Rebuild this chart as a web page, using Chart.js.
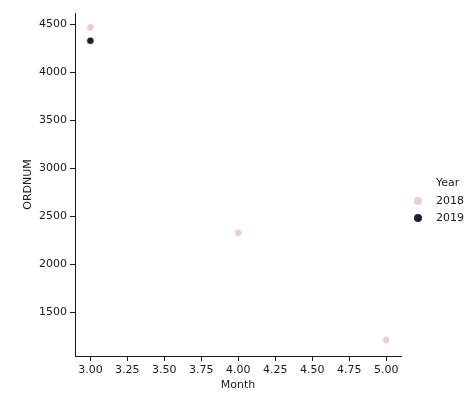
<!DOCTYPE html>
<html>
<head>
<meta charset="utf-8">
<script src="https://cdn.jsdelivr.net/npm/chart.js@4.4.1/dist/chart.umd.min.js"></script>
<style>
  html, body { margin: 0; padding: 0; background: #fff; }
  #wrap { position: relative; width: 474px; height: 403px; }
  #legend { position: absolute; left: 410px; top: 176px; font-family: "DejaVu Sans", sans-serif; font-size: 11px; color: #1a1a1a; }
  #legend .title { position: absolute; left: 26px; top: 0; white-space: nowrap; }
  #legend .item { position: absolute; left: 0; white-space: nowrap; height: 14px; line-height: 14px; }
  #legend .dot { position: absolute; left: 4px; top: 3px; width: 8px; height: 8px; border-radius: 50%; }
  #legend .lbl { position: absolute; left: 26px; top: 0; }
</style>
</head>
<body>
<div id="wrap">
  <canvas id="myChart" width="474" height="403"></canvas>
  <div id="legend"></div>
</div>
<script>
// data
var years = ['2018', '2019'];
var months2018 = [3, 4, 5];
var ordnum2018 = [4466, 2325, 1208];
var months2019 = [3];
var ordnum2019 = [4326];
var yearColors = ['#ebcec7', '#221a36'];

var xTicks = [3.0, 3.25, 3.5, 3.75, 4.0, 4.25, 4.5, 4.75, 5.0];
var yTicks = [1500, 2000, 2500, 3000, 3500, 4000, 4500];

function points(xs, ys) {
    return xs.map(function (x, i) { return { x: x, y: ys[i] }; });
}

var axisColor = '#1a1a1a';
var tickFont = { family: 'DejaVu Sans', size: 11 };

var ctx = document.getElementById('myChart').getContext('2d');
var myChart = new Chart(ctx, {
    type: 'scatter',
    data: {
        datasets: [
            {
                label: years[0],
                data: points(months2018, ordnum2018),
                backgroundColor: yearColors[0],
                borderColor: '#ffffff',
                borderWidth: 0.5,
                pointRadius: 3.6
            },
            {
                label: years[1],
                data: points(months2019, ordnum2019),
                backgroundColor: yearColors[1],
                borderColor: '#ffffff',
                borderWidth: 0.5,
                pointRadius: 3.6
            }
        ]
    },
    options: {
        responsive: false,
        animation: false,
        devicePixelRatio: 1,
        layout: { padding: { top: 13, right: 73, bottom: 0, left: 0 } },
        plugins: {
            legend: { display: false },
            tooltip: { enabled: false }
        },
        scales: {
            x: {
                type: 'linear',
                min: 2.896,
                max: 5.1,
                afterBuildTicks: function (axis) {
                    axis.ticks = xTicks.map(function (v) { return { value: v }; });
                },
                afterFit: function (scale) { scale.height = 47; },
                ticks: {
                    color: axisColor,
                    font: tickFont,
                    padding: 3,
                    maxRotation: 0,
                    autoSkip: false,
                    callback: function (v) { return Number(v).toFixed(2); }
                },
                grid: { drawOnChartArea: false, drawTicks: true, tickLength: 5, color: axisColor },
                border: { display: true, color: axisColor, width: 1 },
                title: {
                    display: true,
                    text: 'Month',
                    color: axisColor,
                    font: tickFont,
                    padding: { top: 0, bottom: 11 }
                }
            },
            y: {
                type: 'linear',
                min: 1042,
                max: 4615,
                afterBuildTicks: function (axis) {
                    axis.ticks = yTicks.map(function (v) { return { value: v }; });
                },
                afterFit: function (scale) { scale.width = 75; },
                ticks: {
                    color: axisColor,
                    font: tickFont,
                    padding: 3,
                    callback: function (v) { return String(v); }
                },
                grid: { drawOnChartArea: false, drawTicks: true, tickLength: 5, color: axisColor },
                border: { display: true, color: axisColor, width: 1 },
                title: {
                    display: true,
                    text: 'ORDNUM',
                    color: axisColor,
                    font: tickFont,
                    padding: { top: 22, bottom: 0 }
                }
            }
        }
    }
});

// legend built from the same arrays
var legend = document.getElementById('legend');
var html = '<div class="title">Year</div>';
years.forEach(function (y, i) {
    html += '<div class="item" style="top:' + (18 + i * 17) + 'px">' +
        '<span class="dot" style="background:' + yearColors[i] + '"></span>' +
        '<span class="lbl">' + y + '</span></div>';
});
legend.innerHTML = html;
</script>
</body>
</html>
